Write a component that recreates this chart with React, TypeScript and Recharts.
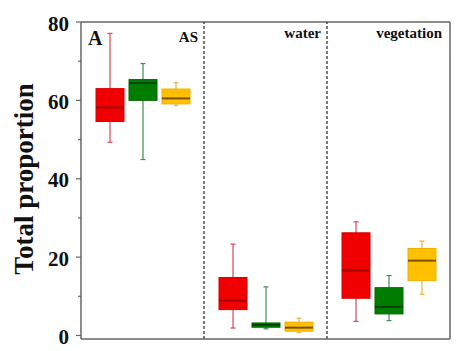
import React from 'react';
import { ComposedChart, Bar, XAxis, YAxis, ReferenceLine } from 'recharts';

const categories = ['AS', 'water', 'vegetation'];
// each box: [min, q1, median, q3, max]
const redBoxes = [
  [49.3, 54.6, 58.2, 63.0, 77.1],
  [1.9, 6.6, 8.9, 14.8, 23.3],
  [3.6, 9.5, 16.6, 26.2, 29.0],
];
const greenBoxes = [
  [44.9, 60.0, 64.4, 65.3, 69.4],
  [1.7, 2.1, 2.7, 3.2, 12.4],
  [3.8, 5.5, 7.3, 12.2, 15.3],
];
const yellowBoxes = [
  [58.7, 59.1, 60.5, 62.9, 64.5],
  [0.7, 1.1, 2.0, 3.4, 4.4],
  [10.5, 14.0, 19.1, 22.2, 24.1],
];
const yTicks = [0, 10, 20, 30, 40, 50, 60, 70, 80];
const yLabels = [0, 20, 40, 60, 80];

const data = categories.map((name, i) => ({
  name,
  red: redBoxes[i],
  green: greenBoxes[i],
  yellow: yellowBoxes[i],
}));

const serif = '"Liberation Serif", "DejaVu Serif", serif';
const frame = '#666';

const makeBox = (key: string, fill: string, edge: string, whisker: string, median: string) => (props: any) => {
  const { x, y, width, height, payload } = props;
  const s = payload[key];
  const top = Math.min(y, y + height);
  const h = Math.abs(height);
  const px = (v: number) => top + ((s[4] - v) / (s[4] - s[0])) * h;
  const cx = x + width / 2;
  return (
    <g>
      <line x1={cx} x2={cx} y1={px(s[4])} y2={px(s[0])} stroke={whisker} strokeWidth={1.2} />
      <line x1={cx - 2.5} x2={cx + 2.5} y1={px(s[4])} y2={px(s[4])} stroke={whisker} strokeWidth={1.2} />
      <line x1={cx - 2.5} x2={cx + 2.5} y1={px(s[0])} y2={px(s[0])} stroke={whisker} strokeWidth={1.2} />
      <rect x={x} y={px(s[3])} width={width} height={px(s[1]) - px(s[3])} fill={fill} stroke={edge} strokeWidth={1} />
      <line x1={x} x2={x + width} y1={px(s[2])} y2={px(s[2])} stroke={median} strokeWidth={2} />
    </g>
  );
};

const YTick = (props: any) => {
  const { x, y, payload } = props;
  const major = yLabels.includes(payload.value);
  return (
    <g>
      <line x1={x - (major ? 5 : 3)} x2={x} y1={y} y2={y} stroke={frame} strokeWidth={1.2} />
      {major && (
        <text x={x - 12} y={y} dy={8.5} textAnchor="end" fontFamily={serif} fontWeight="bold" fontSize={21} fill="#111">
          {payload.value}
        </text>
      )}
    </g>
  );
};

const cornerText = (value: string, dx: number, baseline: number, anchor: string, size: number) => (p: any) => (
  <text x={p.viewBox.x + dx} y={baseline} textAnchor={anchor} fontFamily={serif} fontWeight="bold" fontSize={size} fill="#111">
    {value}
  </text>
);

const App = () => {
  return (
    <div style={{ position: 'absolute', left: 0, top: 0, background: '#fff' }}>
      <ComposedChart
        width={474}
        height={351}
        data={data}
        margin={{ top: 22, right: 24, bottom: 0, left: 0 }}
        barGap={5}
        barSize={28}
      >
        <XAxis dataKey="name" height={12} tick={false} tickLine={false} axisLine={{ stroke: frame, strokeWidth: 1.5 }} />
        <YAxis
          width={81}
          domain={[-0.9, 80]}
          ticks={yTicks}
          interval={0}
          tickSize={0}
          tickMargin={0}
          tick={<YTick />}
          axisLine={{ stroke: frame, strokeWidth: 1.5 }}
          label={() => (
            <text
              x={33}
              y={179}
              transform="rotate(-90 33 179)"
              textAnchor="middle"
              fontFamily={serif}
              fontWeight="bold"
              fontSize={27}
              fill="#111"
            >
              Total proportion
            </text>
          )}
        />
        <ReferenceLine y={80} stroke={frame} strokeWidth={1.5} />
        <ReferenceLine x="AS" position="start" stroke="none" label={cornerText('A', 7, 45, 'start', 20)} />
        <ReferenceLine x="water" position="start" stroke="#222" strokeWidth={1.2} strokeDasharray="3 2" label={cornerText('AS', -6, 42, 'end', 15)} />
        <ReferenceLine x="vegetation" position="start" stroke="#222" strokeWidth={1.2} strokeDasharray="3 2" label={cornerText('water', -6, 38, 'end', 15)} />
        <ReferenceLine x="vegetation" position="end" stroke={frame} strokeWidth={1.5} label={cornerText('vegetation', -8, 38, 'end', 15)} />
        <Bar dataKey={(d: any) => [d.red[0], d.red[4]]} isAnimationActive={false} shape={makeBox('red', '#f00000', '#d80000', '#d9475a', '#a00000')} />
        <Bar dataKey={(d: any) => [d.green[0], d.green[4]]} isAnimationActive={false} shape={makeBox('green', '#007d00', '#006a00', '#3f8c55', '#004400')} />
        <Bar dataKey={(d: any) => [d.yellow[0], d.yellow[4]]} isAnimationActive={false} shape={makeBox('yellow', '#ffc000', '#f0b000', '#e9b44a', '#7a5000')} />
      </ComposedChart>
    </div>
  );
};

export default App;
